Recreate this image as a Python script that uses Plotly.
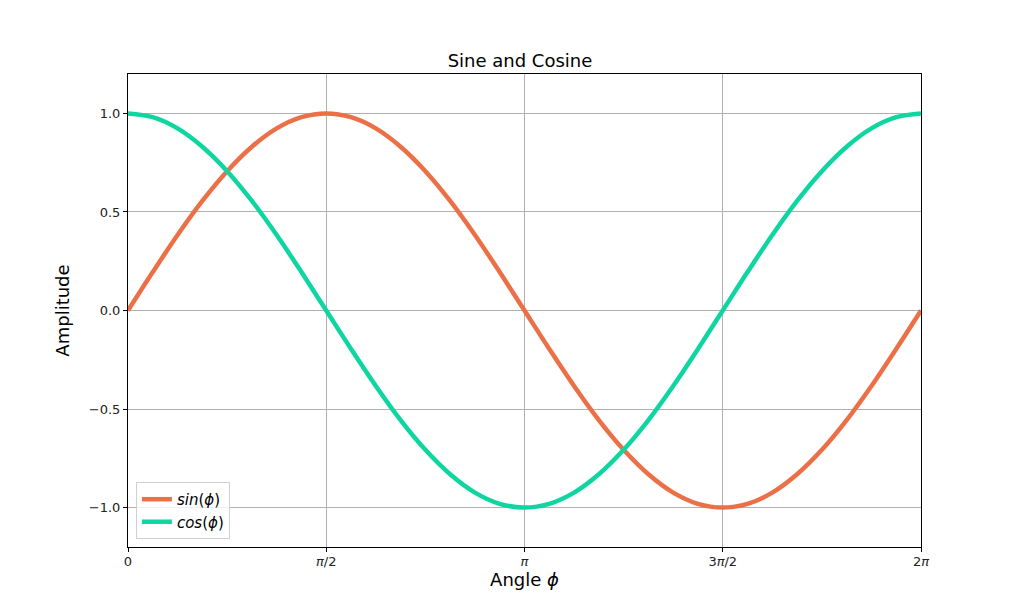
import plotly.graph_objects as go

# angle samples (radians), every pi/16 from 0 to 2*pi
angles = [0.0, 0.1963, 0.3927, 0.5890, 0.7854, 0.9817, 1.1781, 1.3744, 1.5708,
          1.7671, 1.9635, 2.1598, 2.3562, 2.5525, 2.7489, 2.9452, 3.1416,
          3.3379, 3.5343, 3.7306, 3.9270, 4.1233, 4.3197, 4.5160, 4.7124,
          4.9087, 5.1051, 5.3014, 5.4978, 5.6941, 5.8905, 6.0868, 6.2832]

# values
sin_vals = [0.0, 0.195, 0.383, 0.556, 0.707, 0.831, 0.924, 0.981, 1.0,
            0.981, 0.924, 0.831, 0.707, 0.556, 0.383, 0.195, 0.0,
            -0.195, -0.383, -0.556, -0.707, -0.831, -0.924, -0.981, -1.0,
            -0.981, -0.924, -0.831, -0.707, -0.556, -0.383, -0.195, 0.0]
cos_vals = [1.0, 0.981, 0.924, 0.831, 0.707, 0.556, 0.383, 0.195, 0.0,
            -0.195, -0.383, -0.556, -0.707, -0.831, -0.924, -0.981, -1.0,
            -0.981, -0.924, -0.831, -0.707, -0.556, -0.383, -0.195, 0.0,
            0.195, 0.383, 0.556, 0.707, 0.831, 0.924, 0.981, 1.0]

x_tickvals = [0.0, 1.5708, 3.1416, 4.7124, 6.2832]
x_ticktext = ["0", "<i>π</i>/2", "<i>π</i>", "3<i>π</i>/2", "2<i>π</i>"]
y_tickvals = [-1.0, -0.5, 0.0, 0.5, 1.0]
y_ticktext = ["\u22121.0", "\u22120.5", "0.0", "0.5", "1.0"]

fig = go.Figure()
fig.add_trace(go.Scatter(
    x=angles, y=sin_vals, mode="lines", name="<i>sin</i>(<i>ϕ</i>)",
    line=dict(color="#EB7048", width=4.5, shape="spline"),
))
fig.add_trace(go.Scatter(
    x=angles, y=cos_vals, mode="lines", name="<i>cos</i>(<i>ϕ</i>)",
    line=dict(color="#0FD6A0", width=4.5, shape="spline"),
))

axis_common = dict(
    showline=True, linecolor="black", linewidth=1, mirror=True,
    ticks="outside", ticklen=4, tickcolor="black",
    showgrid=True, gridcolor="#b0b0b0", gridwidth=1,
    zeroline=False, tickfont=dict(size=13, color="#222222"),
)

# page body adds an 8px offset, so margins are shifted to compensate
fig.update_layout(
    width=1024, height=614,
    margin=dict(l=120, r=111, t=66, b=75),
    paper_bgcolor="white", plot_bgcolor="white",
    font=dict(family="DejaVu Sans", color="black"),
    title=dict(text="Sine and Cosine", x=0.5, xanchor="center",
               y=1 - 53 / 614, yanchor="middle", font=dict(size=18)),
    xaxis=dict(range=[0, 6.2832], tickvals=x_tickvals, ticktext=x_ticktext,
               ticklabelstandoff=-2,
               title=dict(text="Angle <i>ϕ</i>", font=dict(size=18), standoff=4),
               **axis_common),
    yaxis=dict(range=[-1.2, 1.2], tickvals=y_tickvals, ticktext=y_ticktext,
               title=dict(text="Amplitude", font=dict(size=18), standoff=14),
               **axis_common),
    legend=dict(x=0.01, y=0.017, xanchor="left", yanchor="bottom",
                bgcolor="rgba(255,255,255,0.8)", bordercolor="#d0d0d0",
                borderwidth=1, font=dict(size=15)),
    showlegend=True,
)

fig.write_html("out.html")
